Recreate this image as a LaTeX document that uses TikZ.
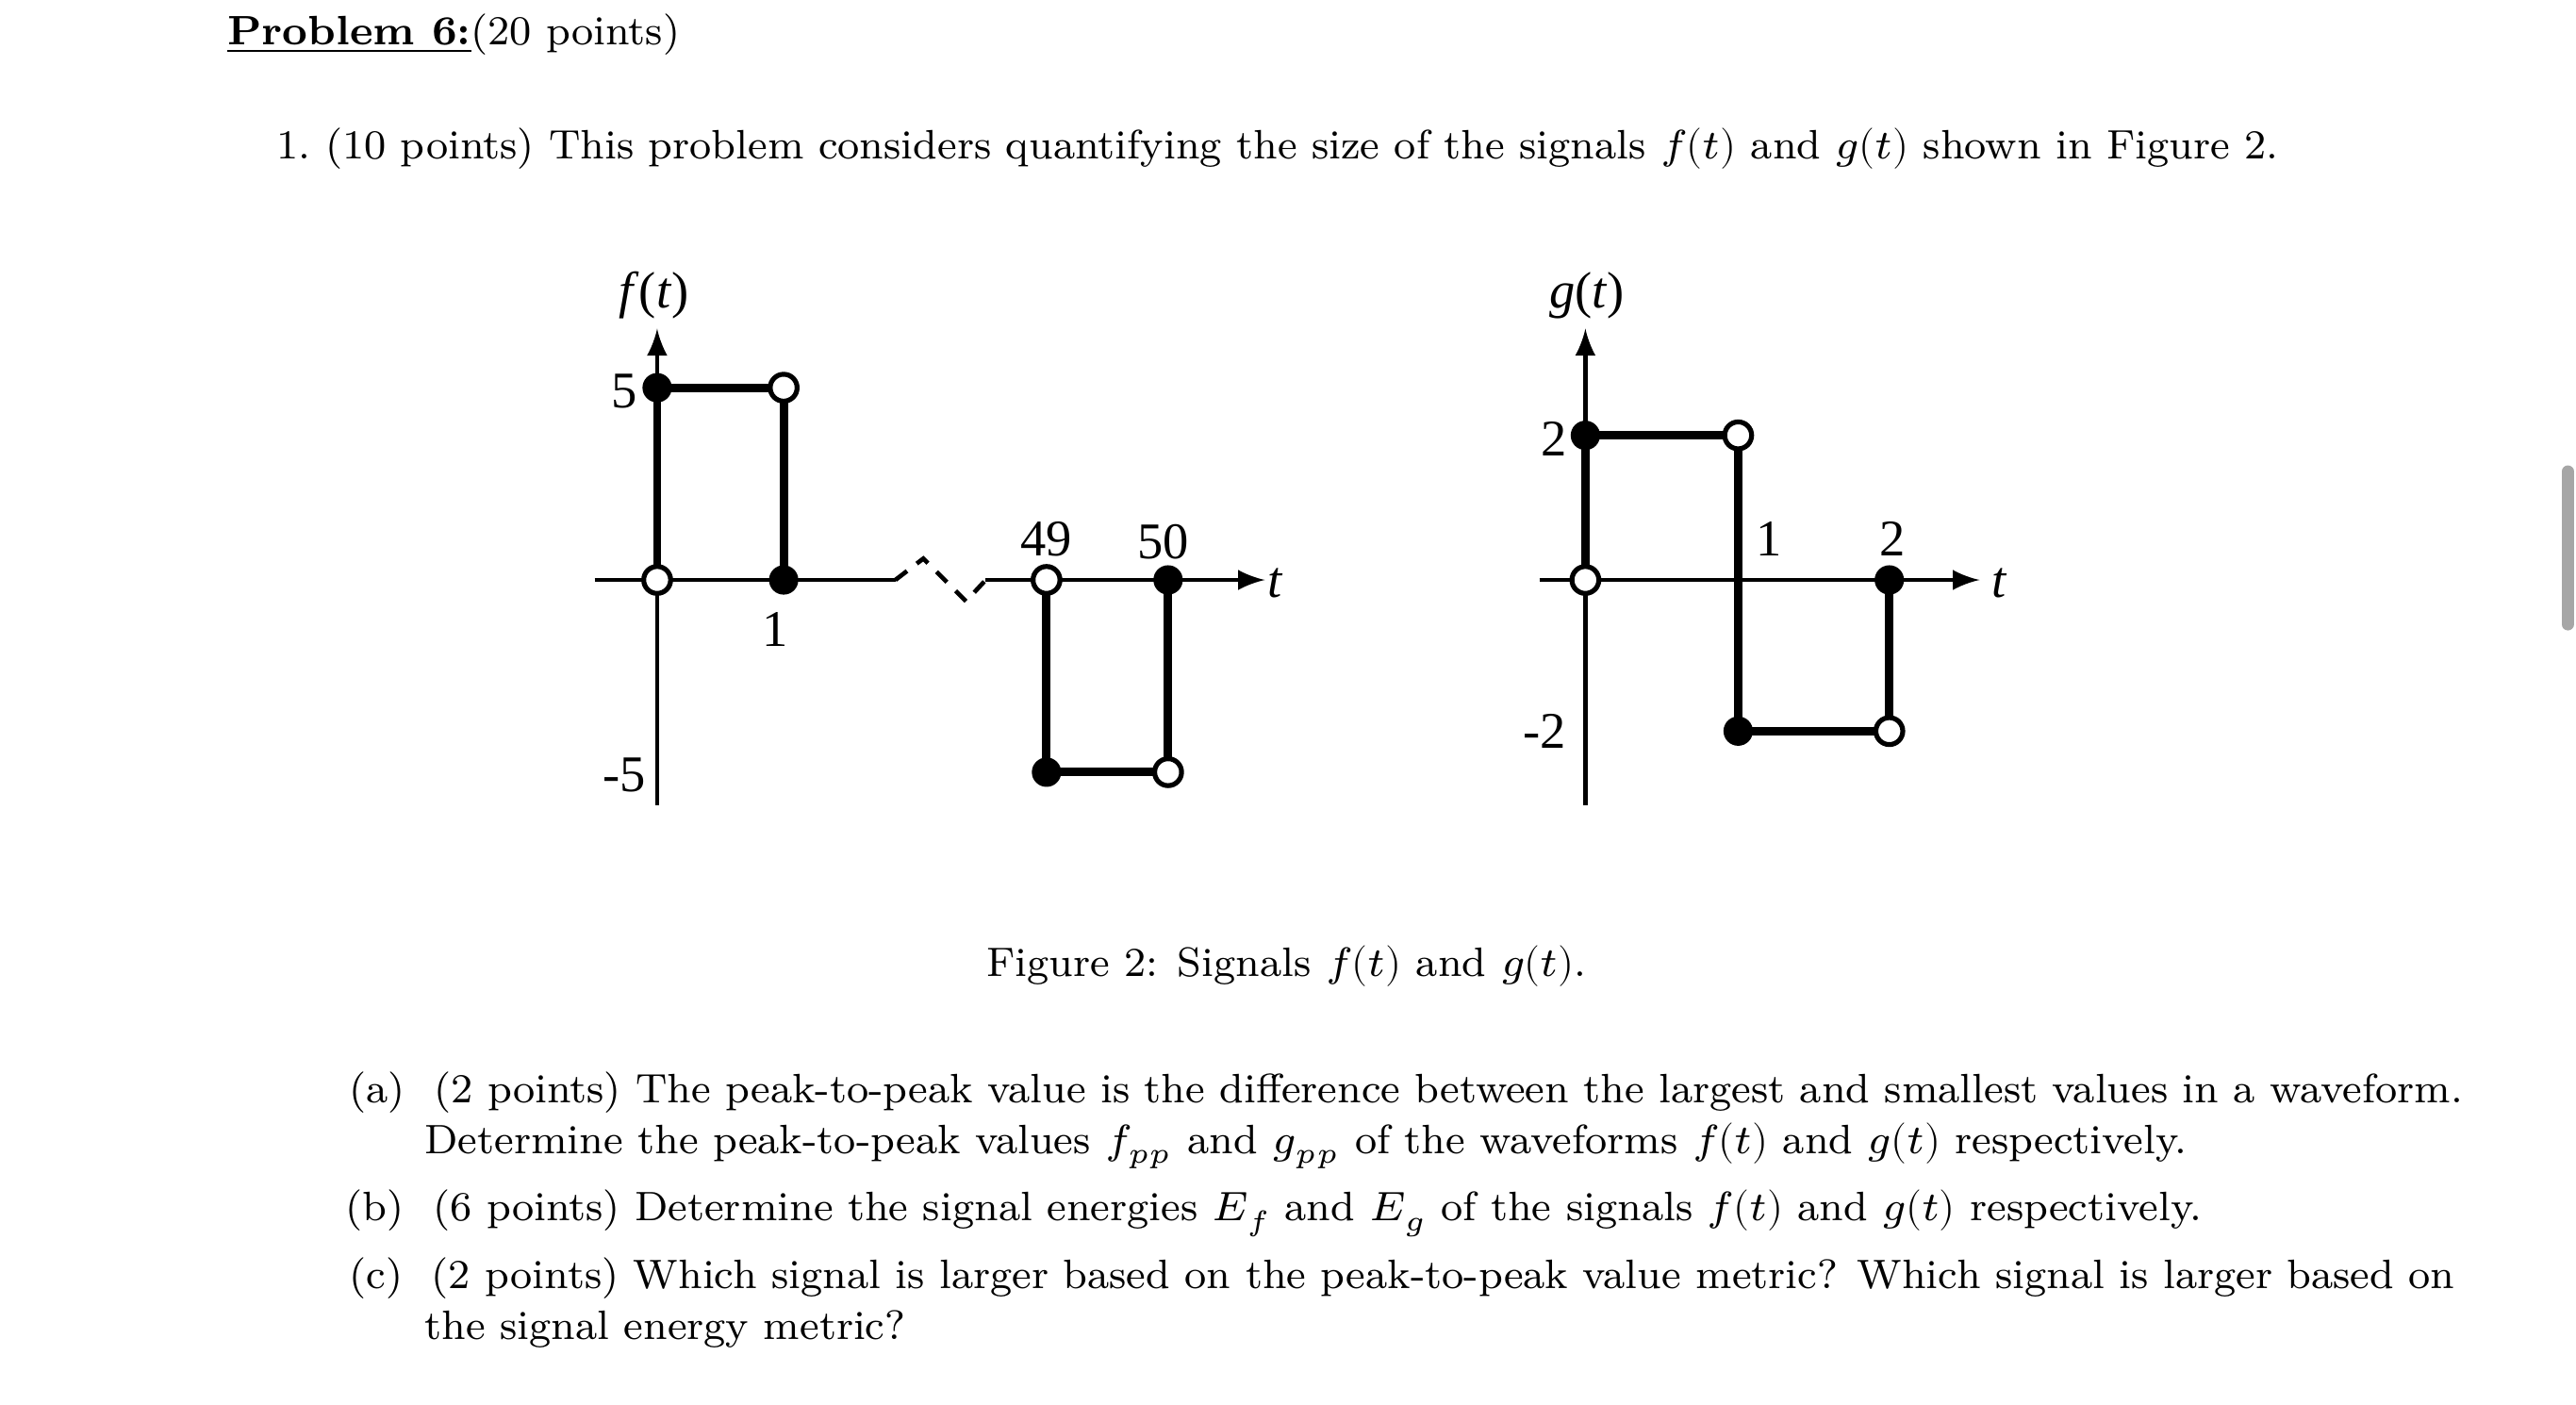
\documentclass[tikz,border=0pt]{standalone}
\usepackage{fontspec}
\usepackage{unicode-math}
\newfontfamily\tnr{Liberation Serif}
\begin{document}
\begin{tikzpicture}[x=0.0118cm,y=-0.0118cm,
 sig/.style={line width=1.7pt},
 ax/.style={line width=0.9pt,-latex},
 cl/.style={circle,fill=black,inner sep=0pt,minimum size=6pt},
 op/.style={circle,draw=black,fill=white,line width=1pt,inner sep=0pt,minimum size=5.5pt},
 lb/.style={font=\fontsize{10.5}{12}\selectfont\tnr,inner sep=0pt},
 tx/.style={anchor=west,inner sep=0pt,font=\fontsize{8.4}{10}\selectfont}]
\useasboundingbox (0,0) rectangle (1568,855);
\node[tx,anchor=base west] (h) at (138,27) {\underline{\textbf{Problem 6:}}(20 points)};
\node[tx,anchor=base west] (p1) at (168,97) {1.\ (10 points) This problem considers quantifying the size of the signals $f(t)$ and $g(t)$ shown in Figure 2.};
% f graph
\draw[ax] (400,490) -- (400,200);
\draw[line width=0.9pt] (362,353) -- (545,353);
\draw[line width=0.9pt,dash pattern=on 3pt off 2.5pt] (545,353) -- (562,340) -- (588,366) -- (600,353);
\draw[ax] (600,353) -- (770,353);
\draw[sig] (400,353) -- (400,236) -- (477,236) -- (477,353);
\draw[sig] (637,353) -- (637,470) -- (711,470) -- (711,353);
\node[op] (a1) at (400,353) {}; \node[cl] (a2) at (400,236) {};
\node[op] (a3) at (477,236) {}; \node[cl] (a4) at (477,353) {};
\node[op] (b1) at (637,353) {}; \node[cl] (b2) at (637,470) {};
\node[op] (b3) at (711,470) {}; \node[cl] (b4) at (711,353) {};
\node[lb] (fl) at (398,180) {\tnr\itshape f\/\upshape(\itshape t\/\upshape)};
\node[lb] (f5) at (380,238) {\tnr 5};
\node[lb] (f1) at (472,383) {\tnr 1};
\node[lb] (fm5) at (380,472) {\tnr -5};
\node[lb] (f49) at (637,328) {\tnr 49};
\node[lb] (f50) at (708,330) {\tnr 50};
\node[lb] (ft) at (776,355) {\tnr\itshape t};
% g graph
\draw[ax] (965,490) -- (965,200);
\draw[ax] (937,353) -- (1205,353);
\draw[sig] (965,353) -- (965,265) -- (1058,265) -- (1058,445) -- (1150,445) -- (1150,353);
\node[op] (c1) at (965,353) {}; \node[cl] (c2) at (965,265) {};
\node[op] (c3) at (1058,265) {}; \node[cl] (c4) at (1058,445) {};
\node[op] (c5) at (1150,445) {}; \node[cl] (c6) at (1150,353) {};
\node[lb] (gl) at (966,180) {\tnr\itshape g\upshape(\itshape t\/\upshape)};
\node[lb] (g2) at (946,267) {\tnr 2};
\node[lb] (gm2) at (940,445) {\tnr -2};
\node[lb] (g1) at (1077,328) {\tnr 1};
\node[lb] (g22) at (1152,328) {\tnr 2};
\node[lb] (gt) at (1217,355) {\tnr\itshape t};
\node[inner sep=0pt,font=\fontsize{8.4}{10}\selectfont] (cap) at (783,588) {Figure 2: Signals $f(t)$ and $g(t)$.};
\node[tx,anchor=base west] (ia) at (212,671) {(a)\ \ (2 points) The peak-to-peak value is the difference between the largest and smallest values in a waveform.};
\node[tx,anchor=base west] (ia2) at (258,702) {Determine the peak-to-peak values $f_{pp}$ and $g_{pp}$ of the waveforms $f(t)$ and $g(t)$ respectively.};
\node[tx,anchor=base west] (ib) at (210,743) {(b)\ \ (6 points) Determine the signal energies $E_f$ and $E_g$ of the signals $f(t)$ and $g(t)$ respectively.};
\node[tx,anchor=base west] (ic) at (212,784) {(c)\ \ (2 points) Which signal is larger based on the peak-to-peak value metric? Which signal is larger based on};
\node[tx,anchor=base west] (ic2) at (258,815) {the signal energy metric?};
\draw[gray!70,line width=2.5pt,line cap=round] (1563,287) -- (1563,380);
\end{tikzpicture}
\end{document}
